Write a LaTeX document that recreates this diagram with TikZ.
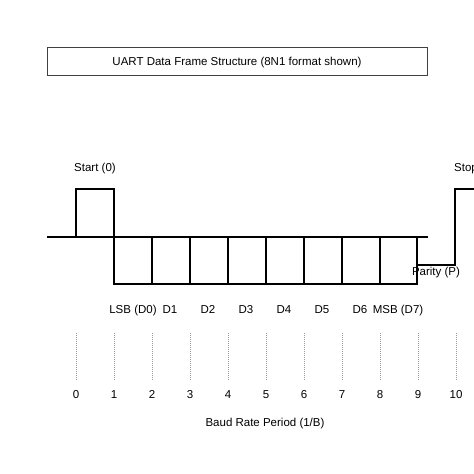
\documentclass[tikz,border=0pt]{standalone}
\usepackage{fontspec}
\setmainfont{Liberation Sans}
\begin{document}
\begin{tikzpicture}[x=1pt,y=-1pt,
  font=\fontsize{11.5}{13.8}\selectfont,
  wave/.style={line width=1.8pt, line cap=rect, line join=miter},
  tick/.style={draw=black!40, line width=1pt, dash pattern=on 1pt off 1pt},
  lbl/.style={inner sep=0pt, text height=8.3pt, text depth=0pt, anchor=center}]
\useasboundingbox (0,0) rectangle (474,474);
\node[draw=black!75, line width=1pt, minimum width=380pt, minimum height=28pt, inner sep=0pt, text height=8.3pt, text depth=0pt] (title) at (237,61) {UART Data Frame Structure (8N1 format shown)};
% idle / baseline
\coordinate (b0) at (48,237);
\coordinate (b1) at (427,237);
\draw[wave] (b0) -- (b1);
% start bit and data bits
\draw[wave] (76,237) -- (76,189) -- (114,189) -- (114,284) -- (417,284) -- (417,237);
\foreach \x in {152,190,228,266,304,342,380}
  \draw[wave] (\x,237) -- (\x,284);
% parity and stop
\draw[wave] (417,265) -- (455,265) -- (455,189) -- (490,189);
% labels
\node[lbl] (start) at (95,167) {Start (0)};
\node[lbl, anchor=west] (stop) at (454,167) {Stop (1)};
\node[lbl] (d0) at (133,309) {LSB (D0)};
\node[lbl] (d1) at (170,309) {D1};
\node[lbl] (d2) at (208,309) {D2};
\node[lbl] (d3) at (246,309) {D3};
\node[lbl] (d4) at (284,309) {D4};
\node[lbl] (d5) at (322,309) {D5};
\node[lbl] (d6) at (360,309) {D6};
\node[lbl] (d7) at (398,309) {MSB (D7)};
\node[lbl] (par) at (436,271) {Parity (P)};
% time axis
\foreach \i in {0,...,10} {
  \draw[tick] ({76+38*\i},333) -- ({76+38*\i},380);
  \node[lbl] (t\i) at ({76+38*\i},394) {\i};
}
\node[lbl] (axis) at (265,422) {Baud Rate Period (1/B)};
\end{tikzpicture}
\end{document}
